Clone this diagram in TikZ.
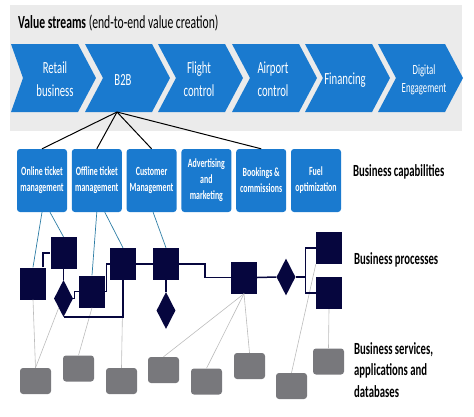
\documentclass[tikz,border=0pt]{standalone}
\usepackage{fontspec}
\setmainfont{Carlito}[FakeStretch=0.63]
\usepackage{tikz}
\usetikzlibrary{shapes.geometric}

\definecolor{panelgrey}{RGB}{235,235,235}
\definecolor{vsblue}{RGB}{26,122,207}
\definecolor{procnavy}{RGB}{6,6,62}
\definecolor{svcgrey}{RGB}{120,120,124}
\definecolor{linkgrey}{RGB}{188,188,188}
\definecolor{linkblue}{RGB}{45,125,165}

\begin{document}
\begin{tikzpicture}[x=1pt, y=-1pt,
    streamtext/.style={text=white, align=center, inner sep=0pt, font=\fontsize{17}{23}\selectfont},
    capbox/.style={fill=vsblue, rounded corners=3pt, minimum width=50pt, minimum height=63pt, inner sep=0pt,
                   text=white, align=center, font=\bfseries\fontsize{12.5}{16}\selectfont},
    proc/.style={fill=procnavy, minimum width=26pt, minimum height=32pt, inner sep=0pt},
    decision/.style={diamond, fill=procnavy, minimum width=19pt, minimum height=37pt, inner sep=0pt},
    svc/.style={fill=svcgrey, rounded corners=3pt, minimum width=31pt, minimum height=26pt, inner sep=0pt},
    layer/.style={inner sep=0pt, align=left, font=\bfseries\fontsize{17}{21.5}\selectfont},
    flow/.style={procnavy, line width=1.5pt},
    trace/.style={linkgrey, line width=0.6pt},
    realize/.style={linkblue, line width=0.7pt}]
  \useasboundingbox (0,0) rectangle (474,416);

  % Value stream band
  \fill[panelgrey] (10,5) rectangle (462,131);
  \node[anchor=base west, inner sep=0pt, font=\fontsize{18.5}{22}\selectfont] (title) at (18,28.5)
    {\textbf{Value streams} (end-to-end value creation)};
  \foreach \x/\n in {11/12, 85/18, 158/18, 232/18, 305/18, 378/18}
    \fill[vsblue] (\x,44) -- ++(67,0) -- ++(18,34) -- ++(-18,34) -- ++(-67,0) -- ++(\n,-34) -- cycle;
  \node[streamtext] (vs1) at (55,79) {Retail\\business};
  \node[streamtext] (vs2) at (123,80) {B2B};
  \node[streamtext] (vs3) at (199,79) {Flight\\control};
  \node[streamtext] (vs4) at (273,79) {Airport\\control};
  \node[streamtext] (vs5) at (345,80) {Financing};
  \node[streamtext, font=\fontsize{14}{18}\selectfont] (vs6) at (424,80) {Digital\\Engagement};
  \coordinate (b2b) at (117,112);

  % Business capabilities
  \node[capbox] (cap1) at (42,180.5) {Online ticket\\management};
  \node[capbox] (cap2) at (96.8,180.5) {Offline ticket\\management};
  \node[capbox] (cap3) at (151.6,180.5) {Customer\\Management};
  \node[capbox] (cap4) at (206.4,180.5) {Advertising\\and\\marketing};
  \node[capbox] (cap5) at (261.2,180.5) {Bookings \&\\commissions};
  \node[capbox] (cap6) at (316,180.5) {Fuel\\optimization};
  \foreach \c in {cap1, cap2, cap3, cap5}
    \draw[line width=1pt] (b2b) -- (\c.north);

  % Business processes
  \node[proc] (p1) at (33,283.5) {};
  \node[proc] (p2) at (63.5,253) {};
  \node[proc] (p3) at (92,291.5) {};
  \node[proc] (p4) at (123,264) {};
  \node[proc] (p5) at (166,264) {};
  \node[proc] (p6) at (244,277.5) {};
  \node[proc] (p7) at (329,248) {};
  \node[proc] (p8) at (329,293) {};
  \node[decision] (d1) at (63.5,298.5) {};
  \node[decision] (d2) at (166,310.5) {};
  \node[decision] (d3) at (286,277) {};

  % Business services, applications and databases
  \node[svc] (s1) at (35.5,381) {};
  \node[svc] (s2) at (78.5,368.5) {};
  \node[svc] (s3) at (121.5,381) {};
  \node[svc] (s4) at (163.5,370) {};
  \node[svc] (s5) at (206.5,381.5) {};
  \node[svc] (s6) at (249.5,366) {};
  \node[svc] (s7) at (291.5,386) {};
  \node[svc] (s8) at (328.5,361.5) {};

  % capability -> process
  \draw[realize] (cap1.south) -- (p1.north);
  \draw[realize] ([xshift=8pt]cap1.south) -- (p2.north);
  \draw[realize] (cap2.south) -- (p3.north);
  \draw[realize] ([xshift=8pt]cap2.south) -- (p4.north);
  \draw[realize] ([xshift=1.5pt]cap3.south) -- (p5.north);

  % process -> service
  \draw[trace] (p1.south) -- (s1.north);
  \draw[trace] (d1.south west) -- (s1.north);
  \draw[trace] (p3.south) -- (s2.north);
  \draw[trace] (p4.south) -- (s3.north);
  \foreach \s in {s4, s5, s6}
    \draw[trace] (p6.south) -- (\s.north);
  \draw[trace] (p7.south west) -- (s7.north);
  \draw[trace] (p8.south) -- (s8.north);

  % process flow
  \draw[flow] ([xshift=-3pt]p1.north east) |- (p2.west);
  \draw[flow] (p2.south) -- (d1.north);
  \draw[flow] (d1.east) -- ++(1.5pt,0) |- (p3.west);
  \draw[flow] (p3.east) -- ++(1.5pt,0) |- (p4.west);
  \draw[flow] (d1.south) -| (p4.south);
  \draw[flow] (p4.east) -- (p5.west);
  \draw[flow] (p5.east) -- ++(26pt,0) |- (p6.west);
  \draw[flow] (p5.south) -- (d2.north);
  \draw[flow] (p6.east) -- (d3.west);
  \draw[flow] (d3.east) -- ++(10pt,0) |- (p7.west);
  \draw[flow] ([xshift=10pt]d3.east) |- (p8.west);

  % Layer labels
  \node[layer, anchor=base west] (lcap) at (353,176) {Business capabilities};
  \node[layer, anchor=base west] (lproc) at (354,264) {Business processes};
  \node[layer, anchor=north west] (lsvc) at (354,342) {Business services,\\applications and\\databases};
\end{tikzpicture}
\end{document}
